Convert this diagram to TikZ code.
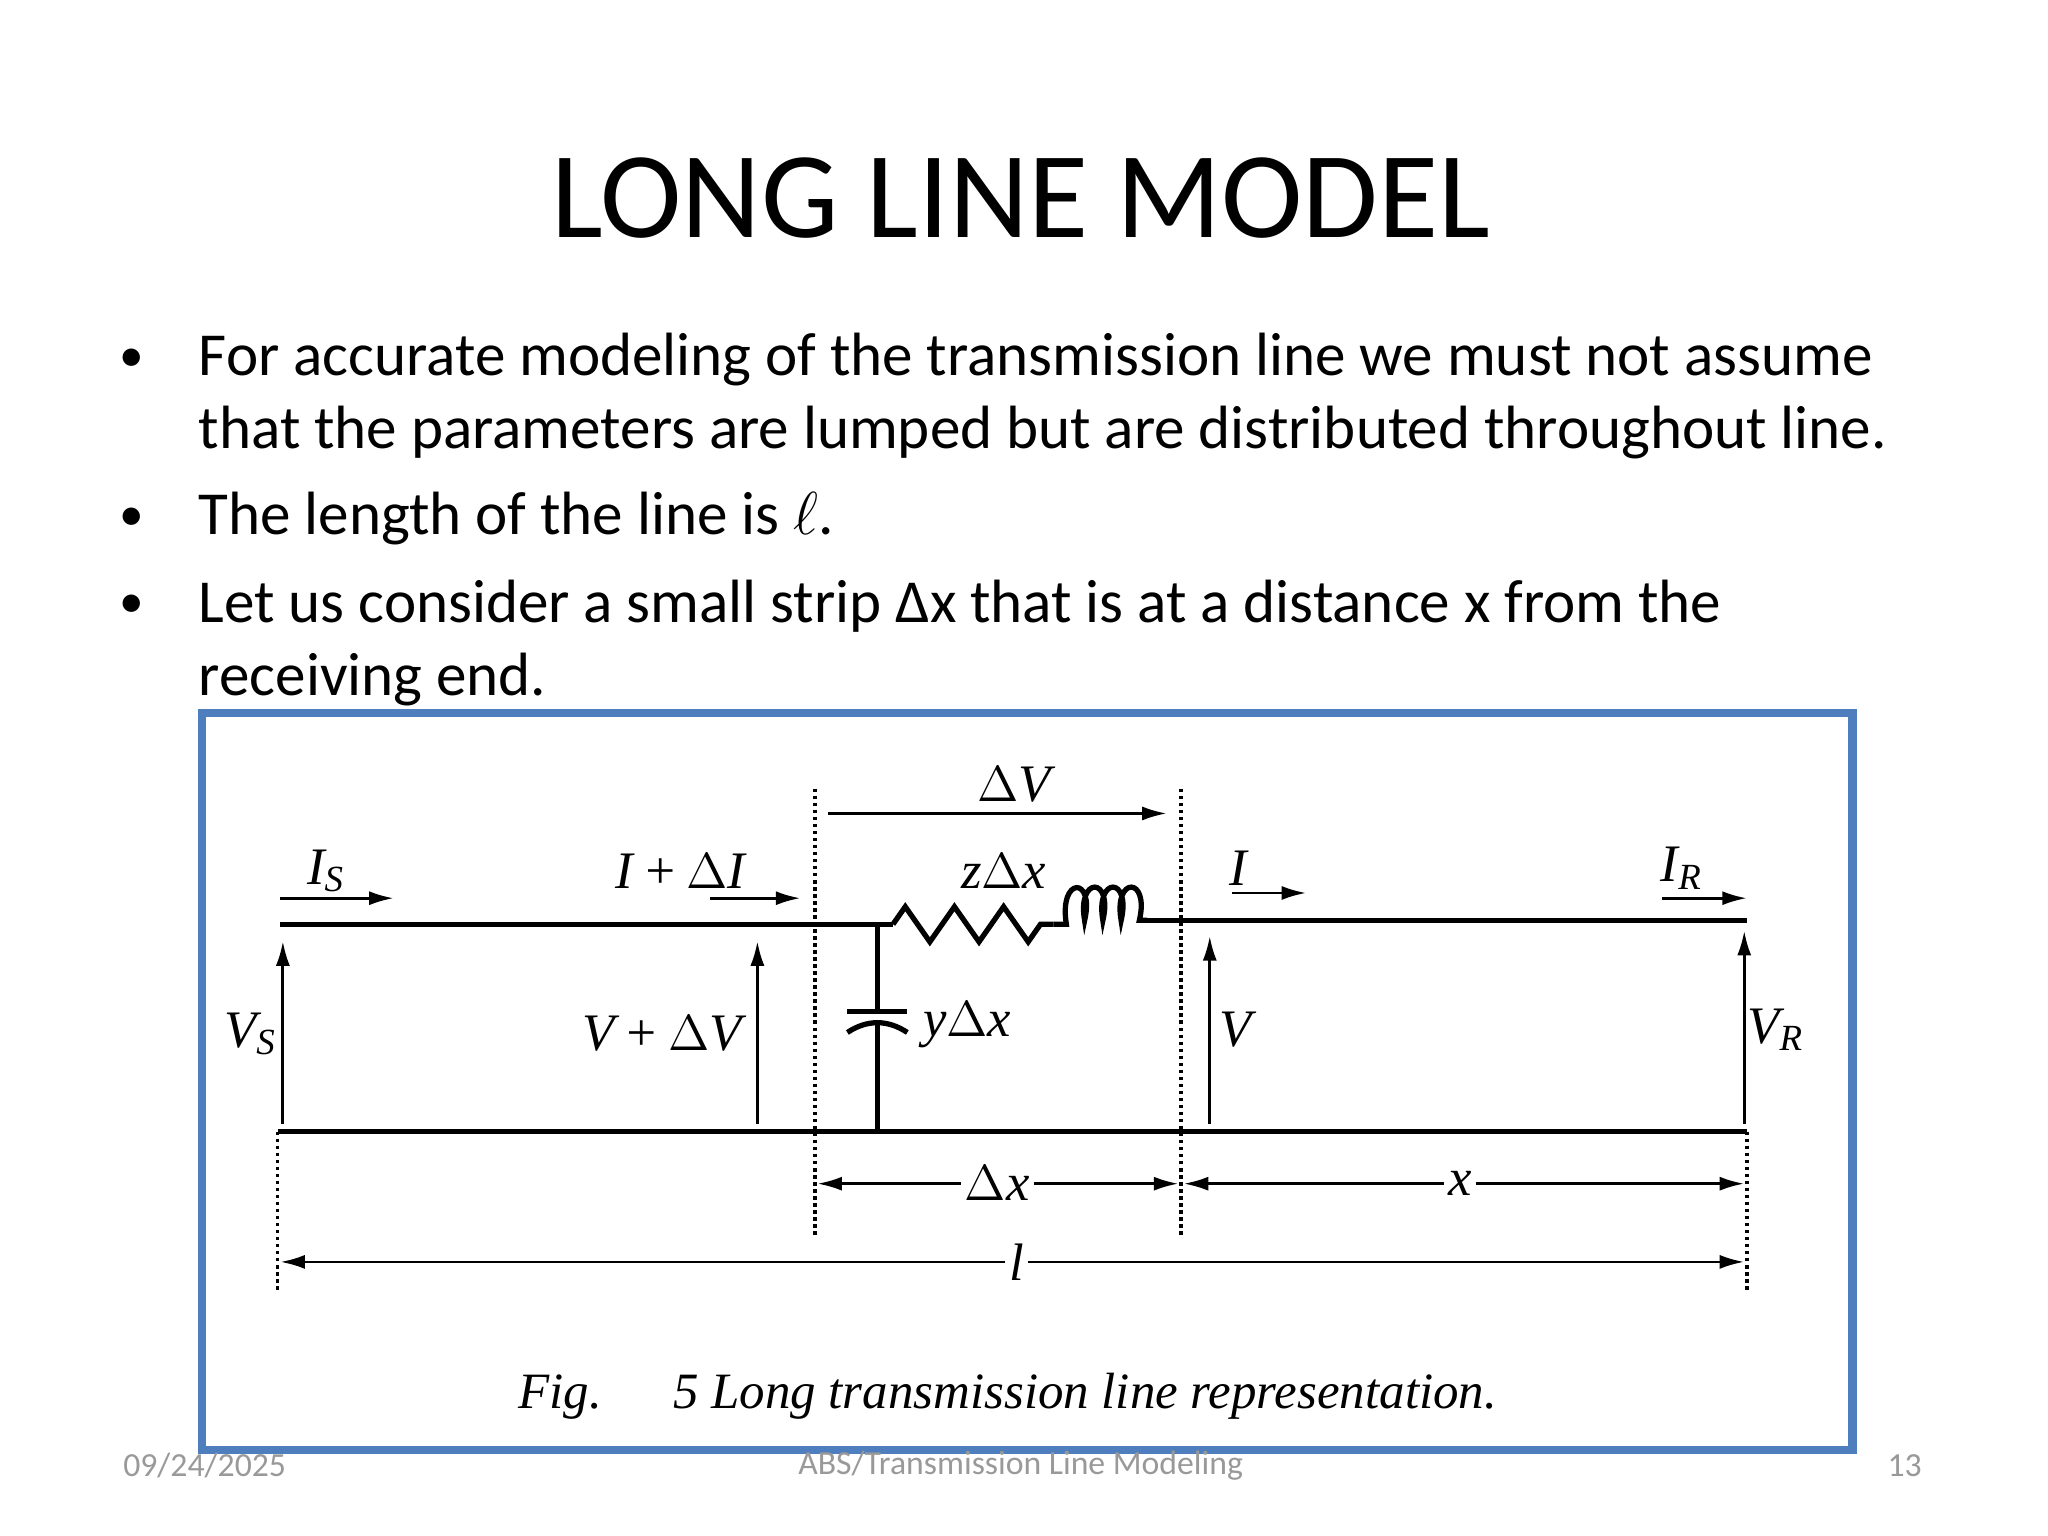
\documentclass[tikz,border=0pt]{standalone}
\usepackage{fontspec}
\setmainfont{Carlito}
\newfontfamily\tms{Liberation Serif}
\usetikzlibrary{arrows.meta,decorations.pathmorphing}
\begin{document}
\begin{tikzpicture}[x=0.01304cm,y=-0.01304cm,
 wire/.style={line width=1.5pt},
 dots/.style={densely dotted,line width=1pt},
 arr/.style={line width=0.8pt,-{Latex[length=7pt,width=4pt]}},
 lbl/.style={font=\tms\itshape\fontsize{15}{15}\selectfont,inner sep=1pt},
 bul/.style={anchor=west,font=\fontsize{17.4}{19}\selectfont,inner sep=0},
 foot/.style={font=\fontsize{9.6}{11}\selectfont,text=gray!80}]
\useasboundingbox (0,0) rectangle (1571,1178);
\node[font=\fontsize{35}{40}\selectfont] (title) at (783,152) {LONG LINE MODEL};
\foreach \y/\n in {276/b1,398/b2,465/b3} \node[font=\fontsize{14}{18}\selectfont] (\n) at (101,\y) {\textbullet};
\node[bul] (t1) at (152,276) {For accurate modeling of the transmission line we must not assume};
\node[bul] (t2) at (152,332) {that the parameters are lumped but are distributed throughout line.};
\node[bul] (t3) at (152,398) {The length of the line is $\ell$.};
\node[bul] (t4) at (152,465) {Let us consider a small strip Δx that is at a distance x from the};
\node[bul] (t5) at (152,521) {receiving end.};
\draw[line width=2.3pt,color={rgb,255:red,79;green,126;blue,190}] (155,547) rectangle (1421,1112);
\coordinate (A) at (215,709); \coordinate (R1) at (685,709); \coordinate (R2) at (808,709);
\coordinate (L2) at (880,706); \coordinate (E) at (1340,706);
\coordinate (BA) at (213,868); \coordinate (BE) at (1340,868);
\draw[wire] (A) -- (R1);
\draw[wire,decoration={zigzag,segment length=14pt,amplitude=5pt},decorate] (R1) -- (R2);
\draw[wire] (R2) -- (818,709) .. controls (812,672) and (840,672) .. (832,706)
 .. controls (826,672) and (854,672) .. (846,706)
 .. controls (840,672) and (868,672) .. (860,706)
 .. controls (854,672) and (882,672) .. (874,706) -- (L2);
\draw[wire] (L2) -- (E);
\draw[wire] (BA) -- (BE);
\coordinate (C1) at (673,709); \coordinate (C2) at (673,868);
\draw[wire] (C1) -- (673,776); \draw[wire] (650,776) -- (696,776);
\draw[wire] (650,792) .. controls (665,782) and (681,782) .. (696,792);
\draw[wire] (673,785) -- (C2);
\node[lbl,anchor=west] (ydx) at (705,786) {y$\Delta$x};
\draw[dots] (625,605) -- (625,948); \draw[dots] (906,605) -- (906,948);
\draw[dots] (213,868) -- (213,990); \draw[dots] (1340,868) -- (1340,990);
\draw[arr] (217,862) -- (217,722); \node[lbl] (vs) at (192,793) {V\textsubscript{S}};
\draw[arr] (581,862) -- (581,722); \node[lbl] (vdv) at (508,793) {V\,+\,$\Delta$V};
\draw[arr] (928,862) -- (928,718); \node[lbl] (v) at (948,790) {V};
\draw[arr] (1338,862) -- (1338,714); \node[lbl] (vr) at (1362,790) {V\textsubscript{R}};
\draw[arr] (215,689) -- (302,689); \node[lbl] (is) at (250,668) {I\textsubscript{S}};
\draw[arr] (545,689) -- (614,689); \node[lbl] (idi) at (522,668) {I\,+\,$\Delta$I};
\draw[arr] (945,685) -- (1002,685); \node[lbl] (i) at (950,666) {I};
\draw[arr] (1275,689) -- (1340,689); \node[lbl] (ir) at (1290,666) {I\textsubscript{R}};
\node[lbl] (zdx) at (770,668) {z$\Delta$x};
\draw[arr] (635,624) -- (895,624); \node[lbl] (dv) at (778,602) {$\Delta$V};
\node[lbl] (dx) at (765,908) {$\Delta$x};
\draw[arr] (dx.west) -- (627,908); \draw[arr] (dx.east) -- (904,908);
\node[lbl] (xx) at (1120,908) {x};
\draw[arr] (xx.west) -- (908,908); \draw[arr] (xx.east) -- (1338,908);
\node[lbl] (ll) at (780,968) {l};
\draw[arr] (ll.west) -- (215,968); \draw[arr] (ll.east) -- (1338,968);
\node[lbl,font=\tms\itshape\fontsize{14.5}{15}\selectfont] (cap) at (773,1071) {Fig.\hspace{1.4em}5 Long transmission line representation.};
\node[foot] (f1) at (157,1124) {09/24/2025};
\node[foot] (f2) at (783,1124) {ABS/Transmission Line Modeling};
\node[foot] (f3) at (1461,1124) {13};
\end{tikzpicture}
\end{document}
